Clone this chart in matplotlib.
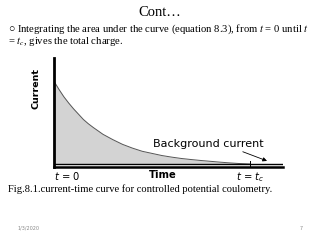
import matplotlib
matplotlib.use("Agg")
import matplotlib.pyplot as plt

# data: time (fraction of t_c) and current (arbitrary units)
time = [0.0, 0.025, 0.05, 0.075, 0.10, 0.125, 0.15, 0.175, 0.20, 0.25, 0.30, 0.35, 0.40,
        0.45, 0.50, 0.55, 0.60, 0.65, 0.70, 0.75, 0.80, 0.85, 0.90, 0.95, 1.0]
current = [0.78, 0.705, 0.635, 0.575, 0.52, 0.47, 0.42, 0.38, 0.345, 0.28, 0.23, 0.185, 0.15,
           0.12, 0.10, 0.08, 0.065, 0.052, 0.042, 0.033, 0.025, 0.017, 0.010, 0.004, 0.0]
xtick_labels = ["$t$ = 0", "Time", "$t$ = $t_c$"]
xtick_pos = [0.0, 0.556, 1.0]

W, H = 320, 240
fig = plt.figure(figsize=(3.2, 2.4), dpi=100)
fig.patch.set_facecolor("white")

def fx(px):
    return px / W

def fy(py):
    return 1 - py / H

serif = ["Liberation Serif", "DejaVu Serif"]

fig.text(fx(160), fy(13), "Cont…", ha="center", va="center", fontsize=10.5, family=serif)
fig.text(fx(8), fy(29), "○ Integrating the area under the curve (equation 8.3), from $t$ = 0 until $t$",
         ha="left", va="center", fontsize=7.7, family=serif, math_fontfamily="stix")
fig.text(fx(8), fy(41), "= $t_c$, gives the total charge.",
         ha="left", va="center", fontsize=7.7, family=serif, math_fontfamily="stix")
fig.text(fx(8), fy(189), "Fig.8.1.current-time curve for controlled potential coulometry.",
         ha="left", va="center", fontsize=7.6, family=serif)
fig.text(fx(17), fy(228), "1/3/2020", ha="left", va="center", fontsize=3.5, color="#888888")
fig.text(fx(300), fy(228), "7", ha="left", va="center", fontsize=3.5, color="#888888")

# axes
ax_left, ax_right, ax_top, ax_bottom = 54, 283, 58, 167
ax = fig.add_axes([fx(ax_left), fy(ax_bottom), (ax_right - ax_left) / W, (ax_bottom - ax_top) / H])
ax.set_facecolor("none")
px_per_x = 196.0
px_per_y = 106.0
ax.set_xlim(0, (ax_right - ax_left) / px_per_x)
ax.set_ylim(-3 / px_per_y, (ax_bottom - ax_top - 3) / px_per_y)

ax.fill_between(time, current, 0, color="#d3d3d3", lw=0)
ax.plot(time, current, color="#555555", lw=0.7)
ax.axhline(0, color="black", lw=1.0)

for s in ["top", "right"]:
    ax.spines[s].set_visible(False)
ax.spines["left"].set_linewidth(2.0)
ax.spines["bottom"].set_linewidth(1.8)

ax.set_yticks([])
ax.set_xticks(xtick_pos)
ax.set_xticklabels(xtick_labels)
ax.tick_params(axis="x", length=0, pad=2.5)
for lbl, fw in zip(ax.get_xticklabels(), ["normal", "bold", "normal"]):
    lbl.set_fontsize(7.2)
    lbl.set_fontweight(fw)
    lbl.set_family("DejaVu Sans")
    lbl.set_math_fontfamily("dejavusans")
ax.get_xticklabels()[0].set_horizontalalignment("left")
ax.plot([1.0, 1.0], [-3 / px_per_y, 3 / px_per_y], color="black", lw=0.7, clip_on=False)

ax.set_ylabel("Current", fontsize=6.8, fontweight="bold", family="DejaVu Sans", labelpad=4)
ax.yaxis.set_label_coords(-0.06, 0.72)

ax.text(0.505, 0.19, "Background current", fontsize=8.0, family="DejaVu Sans", ha="left", va="center")
ax.annotate("", xy=(1.1, 0.02), xytext=(0.95, 0.125),
            arrowprops=dict(arrowstyle="-|>", color="black", lw=0.6, mutation_scale=6))

fig.savefig("out.png", dpi=100, facecolor="white")
